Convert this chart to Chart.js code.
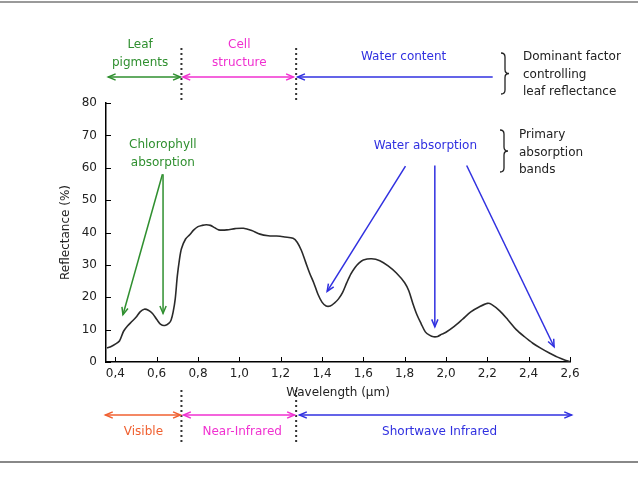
<!DOCTYPE html>
<html>
<head>
<meta charset="utf-8">
<script src="https://cdn.jsdelivr.net/npm/chart.js@4.4.0/dist/chart.umd.min.js"></script>
<style>
  html, body { margin: 0; padding: 0; background: #fff; }
  #wrap { width: 638px; height: 478px; position: relative; }
</style>
</head>
<body>
<div id="wrap"><canvas id="specChart" width="638" height="478"></canvas></div>
<script>
// Leaf reflectance spectrum
const wavelength = [0.36, 0.38, 0.40, 0.42, 0.44, 0.46, 0.48, 0.50, 0.52, 0.54, 0.56, 0.58, 0.60, 0.62, 0.64, 0.66, 0.67, 0.68, 0.69, 0.70,
  0.71, 0.72, 0.74, 0.76, 0.78, 0.80, 0.82, 0.84, 0.86, 0.88, 0.90, 0.94, 0.98, 1.02, 1.06, 1.10, 1.14, 1.18, 1.22, 1.26,
  1.28, 1.30, 1.32, 1.34, 1.36, 1.38, 1.40, 1.42, 1.44, 1.46, 1.48, 1.50, 1.52, 1.54, 1.56, 1.58, 1.60, 1.64, 1.68, 1.72,
  1.76, 1.80, 1.82, 1.84, 1.86, 1.88, 1.90, 1.92, 1.94, 1.96, 1.98, 2.00, 2.04, 2.08, 2.12, 2.16, 2.20, 2.22, 2.26, 2.30,
  2.34, 2.38, 2.42, 2.46, 2.50, 2.54, 2.58, 2.60];
const reflectance = [4.3, 4.8, 5.5, 6.5, 9.5, 11.2, 12.5, 13.8, 15.5, 16.3, 16.0, 15.0, 13.2, 11.6, 11.3, 12.0, 13.0, 15.5, 19.5, 26.5,
  31.5, 35.0, 38.0, 39.3, 40.8, 41.8, 42.2, 42.4, 42.2, 41.5, 40.8, 40.8, 41.2, 41.3, 40.6, 39.5, 39.0, 38.9, 38.6, 38.2,
  37.0, 34.5, 31.0, 27.5, 24.5, 21.0, 18.5, 17.3, 17.3, 18.2, 19.5, 21.5, 24.5, 27.2, 29.2, 30.6, 31.5, 31.9, 31.3, 29.7,
  27.5, 24.5, 22.0, 18.0, 14.5, 11.8, 9.3, 8.3, 7.8, 7.9, 8.6, 9.2, 11.0, 13.2, 15.5, 17.0, 18.1, 17.8, 15.8, 13.0,
  10.0, 7.8, 5.8, 4.2, 2.8, 1.5, 0.5, 0.1];

const xTicks = [0.4, 0.6, 0.8, 1.0, 1.2, 1.4, 1.6, 1.8, 2.0, 2.2, 2.4, 2.6];
const yTicks = [0, 10, 20, 30, 40, 50, 60, 70, 80];

// region boundaries (µm)
const regionDividers = [0.72, 1.275];

const GREEN = '#2f8f2f', MAGENTA = '#f030d0', BLUE = '#3030e0', ORANGE = '#f06030', INK = '#222';
const FAMILY = '"DejaVu Sans", Arial, sans-serif';
const FONT = '12px ' + FAMILY;

function arrowHead(ctx, x1, y1, x2, y2) {
  const a = Math.atan2(y2 - y1, x2 - x1), len = 8, sp = 0.4;
  ctx.beginPath();
  ctx.moveTo(x2 - len * Math.cos(a - sp), y2 - len * Math.sin(a - sp));
  ctx.lineTo(x2, y2);
  ctx.lineTo(x2 - len * Math.cos(a + sp), y2 - len * Math.sin(a + sp));
  ctx.stroke();
}

function arrow(ctx, x1, y1, x2, y2, color, startHead, endHead) {
  ctx.save();
  ctx.strokeStyle = color;
  ctx.lineWidth = 1.5;
  ctx.beginPath();
  ctx.moveTo(x1, y1);
  ctx.lineTo(x2, y2);
  ctx.stroke();
  if (endHead) arrowHead(ctx, x1, y1, x2, y2);
  if (startHead) arrowHead(ctx, x2, y2, x1, y1);
  ctx.restore();
}

function brace(ctx, x, y1, y2) {
  const mid = (y1 + y2) / 2;
  ctx.save();
  ctx.strokeStyle = INK;
  ctx.lineWidth = 1.3;
  ctx.beginPath();
  ctx.moveTo(x, y1);
  ctx.quadraticCurveTo(x + 4, y1, x + 4, y1 + 4);
  ctx.lineTo(x + 4, mid - 4);
  ctx.quadraticCurveTo(x + 4, mid, x + 8, mid);
  ctx.quadraticCurveTo(x + 4, mid, x + 4, mid + 4);
  ctx.lineTo(x + 4, y2 - 4);
  ctx.quadraticCurveTo(x + 4, y2, x, y2);
  ctx.stroke();
  ctx.restore();
}

function text(ctx, str, x, y, color, align) {
  ctx.fillStyle = color;
  ctx.textAlign = align || 'center';
  ctx.textBaseline = 'middle';
  ctx.fillText(str, x, y);
}

const annotations = {
  id: 'annotations',
  afterDraw(chart) {
    const ctx = chart.ctx;
    const xs = chart.scales.x, ys = chart.scales.y;
    const X = v => xs.getPixelForValue(v), Y = v => ys.getPixelForValue(v);
    const area = chart.chartArea;
    ctx.save();
    ctx.font = FONT;

    // page rules
    ctx.fillStyle = '#9a9a9a';
    ctx.fillRect(0, 1, 638, 2);
    ctx.fillStyle = '#888';
    ctx.fillRect(0, 461, 638, 2);

    // inward tick marks
    ctx.strokeStyle = '#000';
    ctx.lineWidth = 1;
    ctx.beginPath();
    xTicks.forEach(v => { const p = Math.round(X(v)) + 0.5; ctx.moveTo(p, area.bottom); ctx.lineTo(p, area.bottom - 5); });
    yTicks.forEach(v => { const p = Math.round(Y(v)) + 0.5; ctx.moveTo(area.left, p); ctx.lineTo(area.left + 5, p); });
    ctx.stroke();

    // dotted dividers above and below the plot
    ctx.save();
    ctx.strokeStyle = '#333';
    ctx.lineWidth = 2;
    ctx.setLineDash([2, 3]);
    regionDividers.forEach(v => {
      ctx.beginPath();
      ctx.moveTo(X(v), 48); ctx.lineTo(X(v), 101);
      ctx.moveTo(X(v), 390); ctx.lineTo(X(v), 443);
      ctx.stroke();
    });
    ctx.restore();

    // top: dominant factor
    arrow(ctx, X(0.366), 77, X(0.715), 77, GREEN, true, true);
    arrow(ctx, X(0.727), 77, X(1.262), 77, MAGENTA, true, true);
    arrow(ctx, X(1.282), 77, X(2.226), 77, BLUE, true, false);
    text(ctx, 'Leaf', X(0.52), 45, GREEN);
    text(ctx, 'pigments', X(0.52), 63, GREEN);
    text(ctx, 'Cell', X(1.0), 45, MAGENTA);
    text(ctx, 'structure', X(1.0), 63, MAGENTA);
    text(ctx, 'Water content', X(1.795), 57, BLUE);
    brace(ctx, 501, 53, 94);
    text(ctx, 'Dominant factor', 523, 57, INK, 'left');
    text(ctx, 'controlling', 523, 75, INK, 'left');
    text(ctx, 'leaf reflectance', 523, 92, INK, 'left');

    // primary absorption bands
    brace(ctx, 500, 130, 172);
    text(ctx, 'Primary', 519, 135, INK, 'left');
    text(ctx, 'absorption', 519, 153, INK, 'left');
    text(ctx, 'bands', 519, 170, INK, 'left');

    // chlorophyll absorption
    text(ctx, 'Chlorophyll', X(0.63), Y(67.2), GREEN);
    text(ctx, 'absorption', X(0.63), Y(61.5), GREEN);
    arrow(ctx, X(0.628), Y(58), X(0.437), Y(14.6), GREEN, false, true);
    arrow(ctx, X(0.631), Y(58), X(0.631), Y(15), GREEN, false, true);

    // water absorption
    text(ctx, 'Water absorption', X(1.9), Y(66.7), BLUE);
    arrow(ctx, X(1.804), Y(60.5), X(1.425), Y(21.8), BLUE, false, true);
    arrow(ctx, X(1.946), Y(60.7), X(1.946), Y(10.9), BLUE, false, true);
    arrow(ctx, X(2.10), Y(60.7), X(2.523), Y(4.7), BLUE, false, true);

    // bottom: spectral regions
    arrow(ctx, X(0.352), 415, X(0.715), 415, ORANGE, true, true);
    arrow(ctx, X(0.73), 415, X(1.267), 415, MAGENTA, true, true);
    arrow(ctx, X(1.291), 415, X(2.608), 415, BLUE, true, true);
    text(ctx, 'Visible', X(0.536), 432, ORANGE);
    text(ctx, 'Near-Infrared', X(1.014), 432, MAGENTA);
    text(ctx, 'Shortwave Infrared', X(1.969), 432, BLUE);

    ctx.restore();
  }
};

const ctx = document.getElementById('specChart').getContext('2d');
new Chart(ctx, {
  type: 'line',
  data: {
    datasets: [{
      label: 'Reflectance',
      data: wavelength.map((w, i) => ({ x: w, y: reflectance[i] })),
      borderColor: '#2a2a2a',
      borderWidth: 1.6,
      pointRadius: 0,
      tension: 0.3,
      fill: false
    }]
  },
  options: {
    responsive: false,
    animation: false,
    layout: { padding: { left: 0, top: 103, right: 68, bottom: 76 } },
    plugins: { legend: { display: false }, tooltip: { enabled: false } },
    scales: {
      x: {
        type: 'linear',
        min: 0.355,
        max: 2.6,
        afterBuildTicks: s => { s.ticks = xTicks.map(v => ({ value: v })); },
        afterFit: s => { s.height = 40; },
        grid: { display: false, drawTicks: false },
        border: { display: true, color: '#000', width: 1.5 },
        ticks: {
          padding: 5,
          color: '#222',
          font: { family: FAMILY, size: 12 },
          callback: v => v.toFixed(1).replace('.', ',')
        },
        title: {
          display: true,
          text: 'Wavelength (μm)',
          color: '#222',
          font: { family: FAMILY, size: 12 },
          padding: { top: 0, bottom: 2 }
        }
      },
      y: {
        min: 0,
        max: 80,
        afterBuildTicks: s => { s.ticks = yTicks.map(v => ({ value: v })); },
        afterFit: s => { s.width = 106; },
        grid: { display: false, drawTicks: false },
        border: { display: true, color: '#000', width: 1.5 },
        ticks: {
          padding: 9,
          color: '#222',
          font: { family: FAMILY, size: 12 }
        },
        title: {
          display: true,
          text: 'Reflectance (%)',
          color: '#222',
          font: { family: FAMILY, size: 12 },
          padding: { top: 59, bottom: 0 }
        }
      }
    }
  },
  plugins: [annotations]
});
</script>
</body>
</html>
